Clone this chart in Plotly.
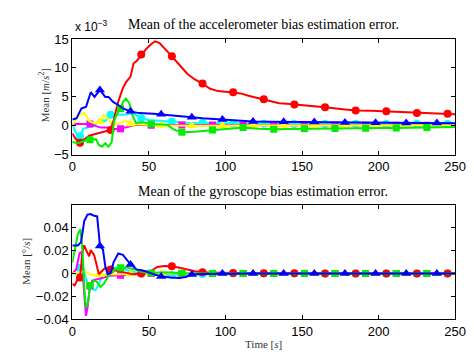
import numpy as np
import plotly.graph_objects as go

# ---------------- data: accelerometer bias error (x 1e-3 m/s^2) ----------------
acc_red_t = [0, 2, 5, 8, 11, 15, 20, 25, 27, 30, 33, 35, 38, 40, 42, 45, 48, 51, 54, 57, 60, 65, 70, 75, 80, 85, 90, 95,
             100, 105, 110, 115, 120, 125, 130, 135, 140, 145, 155, 165, 175, 185, 195, 205, 215, 225, 235, 245, 250]
acc_red_v = [-1.3, -2.2, -2.9, -2.3, -1.7, -1.4, -1.0, -0.7, 1.0, 4.2, 6.5, 7.5, 8.5, 10.8, 11.2, 12.3, 13.2, 14.0, 14.6,
             14.3, 13.5, 12.0, 10.5, 9.0, 8.0, 7.3, 6.4, 6.0, 5.9, 5.8, 5.6, 5.2, 4.9, 4.6, 4.2, 3.9, 3.8, 3.7, 3.4, 3.2,
             2.9, 2.65, 2.6, 2.5, 2.3, 2.2, 2.1, 2.1, 2.0]

acc_blue_t = [0, 2.7, 5.9, 9, 12, 14.5, 18, 21.5, 23.6, 26.8, 30, 33, 38, 43.6, 53, 58, 65, 72, 78, 85, 92, 98, 105, 112,
              118, 128, 138, 148, 158, 168, 178, 188, 198, 208, 218, 228, 238, 250]
acc_blue_v = [1.1, 1.3, 3.0, 3.3, 5.8, 5.0, 6.2, 5.0, 5.0, 4.1, 3.6, 3.0, 2.5, 2.2, 2.1, 2.0, 1.8, 1.6, 1.5, 1.3, 1.2, 1.1,
              0.9, 0.8, 0.75, 0.72, 0.7, 0.67, 0.65, 0.62, 0.6, 0.57, 0.55, 0.52, 0.5, 0.5, 0.48, 0.45]

acc_green_t = [0, 3.6, 9, 11.5, 15.5, 17.3, 19.4, 21.5, 23.6, 25.7, 27.2, 28.9, 31.5, 33, 35, 37.2, 39.4, 41.5, 45.7,
               51.5, 56, 62, 66, 71.5, 80, 91.5, 100, 111.5, 121.5, 131.5, 141.5, 151.5, 161.5, 171.5, 181.5, 191.5,
               201.5, 211.5, 221.5, 231.5, 250]
acc_green_v = [-2.8, -3.0, -2.5, -2.4, -2.3, -3.3, -3.6, -3.0, -3.6, -2.8, 0.8, 1.9, 3.0, 4.1, 4.7, 3.9, 1.7, 0.5, 0.6,
               0.3, 0.3, 0.2, -0.6, -1.1, -1.0, -0.7, -0.5, -0.3, -0.5, -0.6, -0.55, -0.5, -0.47, -0.45, -0.42, -0.4,
               -0.37, -0.35, -0.32, -0.3, -0.2]

acc_cyan_t = [0, 1, 2.7, 5, 7, 10, 14, 18, 21.5, 25, 29, 34, 39.4, 45, 50, 58, 65, 75, 85, 95, 105, 125, 145, 165, 185,
              205, 225, 245, 250]
acc_cyan_v = [0.3, -0.3, -1.4, -1.8, -0.5, -0.3, 0.0, 1.1, 0.8, 1.9, 1.9, 1.9, 2.2, 1.3, 1.0, 0.8, 0.7, 0.55, 0.5, 0.45,
              0.4, 0.35, 0.33, 0.32, 0.3, 0.3, 0.3, 0.3, 0.3]

acc_magenta_t = [0, 7, 11.5, 15, 18.5, 22.5, 26.8, 31.5, 35, 41.5, 51.5, 71.5, 91.5, 111.5, 131.5, 151.5, 171.5, 191.5,
                 211.5, 231.5, 250]
acc_magenta_v = [0.3, 0.3, 0.3, 0.0, -0.3, -0.3, -0.55, -0.5, -0.3, 0.2, 0.1, 0.15, 0.15, 0.1, 0.1, 0.1, 0.1, 0.1, 0.1,
                 0.1, 0.1]

acc_yellow_t = [0, 2, 5, 8, 11, 14, 18, 20.5, 22.5, 27, 32, 35, 38, 44, 50, 58, 70, 78, 90, 98, 110, 118, 138, 158, 178,
                198, 218, 238, 250]
acc_yellow_v = [0, 1.1, 1.9, 2.2, 0.8, 0.5, 0.7, 1.9, 1.4, 0.1, 0.6, 0.9, 0.3, 0.3, 0.2, 0.05, 0.0, 0.0, 0.0, 0.0, 0.05,
                0.05, 0.1, 0.1, 0.1, 0.1, 0.1, 0.1, 0.1]

# ---------------- data: gyroscope bias error (deg/s) ----------------
gyr_red_t = [0, 1.5, 3.6, 5, 6.8, 7.8, 9.5, 11, 12, 14.2, 15.8, 17.3, 19.4, 21.5, 25, 29, 34, 39.4, 45, 51, 55.5, 60,
             65, 70, 74.4, 80, 85, 95, 105, 125, 145, 165, 185, 205, 225, 245, 250]
gyr_red_v = [-0.009, -0.0105, -0.0048, -0.0034, 0.0205, 0.0247, 0.019, 0.015, 0.0205, 0.0163, 0.0078, -0.0006, 0.0022,
             0.005, 0.0036, 0.0022, 0.001, -0.0006, 0.0, 0.002, 0.0058, 0.0065, 0.0064, 0.005, 0.0036, 0.002, 0.0012,
             0.0008, 0.0005, 0.0003, 0.0002, 0.0001, 0.0001, 0.0, 0.0, 0.0, 0.0]

gyr_blue_t = [0, 3.6, 5.7, 7.8, 9.9, 12, 14.2, 16.2, 17.3, 18, 20, 21.5, 23, 25, 27, 30, 33, 36, 38, 42, 48, 53, 58, 64,
              70, 74, 78, 85, 98, 118, 138, 158, 178, 198, 218, 238, 250]
gyr_blue_v = [0.0245, 0.0245, 0.0275, 0.046, 0.0515, 0.052, 0.0505, 0.05, 0.035, 0.024, 0.021, 0.0065, -0.0006, 0.0005,
              0.01, 0.0175, 0.0163, 0.011, 0.008, 0.0036, 0.002, -0.0006, -0.0025, -0.0035, -0.004, -0.003, -0.0008,
              -0.0003, 0, 0, 0, 0, 0, 0, 0, 0, 0]

gyr_green_t = [0, 1.5, 3.6, 5.3, 6.8, 7.8, 8.9, 10.4, 11.5, 14.2, 16.2, 18.3, 20.5, 23.6, 27.8, 31.5, 36.3, 40.5, 45,
               51.5, 60, 71.5, 91.5, 111.5, 131.5, 151.5, 171.5, 191.5, 211.5, 231.5, 250]
gyr_green_v = [0.0093, 0.0205, 0.0346, 0.0388, 0.0177, -0.0132, -0.030, -0.0245, -0.0105, -0.0062, -0.0076, -0.0118,
               -0.009, -0.002, 0.0036, 0.005, 0.005, 0.0036, 0.0015, 0.0005, 0.0012, 0.0003, 0, 0, 0, 0, 0, 0, 0, 0, 0]

gyr_magenta_t = [0, 2.5, 4.7, 6.1, 7.2, 8.2, 8.9, 9.9, 11.5, 13.1, 16.2, 20.5, 24.7, 31.5, 40, 51.5, 71.5, 91.5, 111.5,
                 131.5, 151.5, 171.5, 191.5, 211.5, 231.5, 250]
gyr_magenta_v = [0, 0.0036, 0.0177, 0.019, -0.0076, -0.0315, -0.037, -0.030, -0.011, -0.0062, -0.0048, -0.0034, -0.002,
                 -0.0014, -0.0005, 0, 0, 0, 0, 0, 0, 0, 0, 0, 0, 0]

gyr_cyan_t = [0, 3.6, 5, 7, 8.9, 11, 13.1, 15.2, 17.3, 19.4, 22.6, 25, 26.8, 32, 37.3, 45, 55, 65, 75, 85, 105, 125,
              145, 165, 185, 205, 225, 245, 250]
gyr_cyan_v = [0, 0.0003, 0.005, 0.0064, -0.0048, -0.0105, -0.0132, -0.0147, -0.009, -0.0034, 0.0003, 0.003, 0.005,
              0.005, 0.002, 0.0, -0.001, -0.0012, -0.001, -0.0005, 0, 0, 0, 0, 0, 0, 0, 0, 0]

gyr_yellow_t = [0, 5, 8, 12, 18, 25, 38, 58, 78, 98, 118, 138, 158, 178, 198, 218, 238, 250]
gyr_yellow_v = [0, 0.001, 0.002, -0.001, -0.001, -0.0008, -0.0005, 0, 0, 0, 0, 0, 0, 0, 0, 0, 0, 0]

# marker schedules (every 20 s)
circle_times = list(range(5, 250, 20))
triangle_times = list(range(18, 250, 20))
square_times = [11.5 + 20 * k for k in range(12)]

x_ticks = [0, 50, 100, 150, 200, 250]
acc_y_ticks = [-5, 0, 5, 10, 15]
gyr_y_ticks = [-0.04, -0.02, 0, 0.02, 0.04]
gyr_y_ticktext = ["\u22120.04", "\u22120.02", "0", "0.02", "0.04"]

fig = go.Figure()

series = [
    # (top t, top v, bottom t, bottom v, colour, symbol, marker times, size)
    (acc_cyan_t, acc_cyan_v, gyr_cyan_t, gyr_cyan_v, "#00ffff", "circle", circle_times, 8),
    (acc_magenta_t, acc_magenta_v, gyr_magenta_t, gyr_magenta_v, "#ff00ff", "square", square_times, 7),
    (acc_yellow_t, acc_yellow_v, gyr_yellow_t, gyr_yellow_v, "#ffff00", "triangle-up", triangle_times, 9),
    (acc_red_t, acc_red_v, gyr_red_t, gyr_red_v, "#ff0000", "circle", circle_times, 8),
    (acc_green_t, acc_green_v, gyr_green_t, gyr_green_v, "#00ee00", "square", square_times, 7),
    (acc_blue_t, acc_blue_v, gyr_blue_t, gyr_blue_v, "#0000ff", "triangle-up", triangle_times, 9),
]

for (ta, va, tg, vg, col, sym, mtimes, msz) in series:
    for t, v, xa, ya in ((ta, va, "x", "y"), (tg, vg, "x2", "y2")):
        t = np.array(t, dtype=float)
        v = np.array(v, dtype=float)
        fig.add_trace(go.Scatter(x=t, y=v, mode="lines", line=dict(color=col, width=2),
                                 xaxis=xa, yaxis=ya, showlegend=False, hoverinfo="skip"))
        sel = np.isin(t, np.array(mtimes, dtype=float))
        fig.add_trace(go.Scatter(x=t[sel], y=v[sel], mode="markers",
                                 marker=dict(color=col, symbol=sym, size=msz, line=dict(width=0)),
                                 xaxis=xa, yaxis=ya, showlegend=False, hoverinfo="skip"))

W, H = 474, 355
xl, xr = 62.3 / W, 457.7 / W
tick_font = dict(family="Liberation Sans, Arial, sans-serif", size=13, color="black")
axis_common = dict(showline=True, linecolor="black", linewidth=1, mirror="ticks", ticks="inside",
                   ticklen=4, tickwidth=1, tickcolor="black", showgrid=False, zeroline=False,
                   tickfont=tick_font)

fig.update_layout(
    width=W, height=H, margin=dict(l=0, r=0, t=0, b=0),
    paper_bgcolor="white", plot_bgcolor="white", showlegend=False,
    xaxis=dict(domain=[xl, xr], range=[0, 250], tickvals=x_ticks, anchor="y", **axis_common),
    yaxis=dict(domain=[1 - 146 / H, 1 - 25 / H], range=[-5, 15], tickvals=acc_y_ticks, anchor="x", **axis_common),
    xaxis2=dict(domain=[xl, xr], range=[0, 250], tickvals=x_ticks, anchor="y2", **axis_common),
    yaxis2=dict(domain=[1 - 317.7 / H, 1 - 198.3 / H], range=[-0.04, 0.06], tickvals=gyr_y_ticks,
                ticktext=gyr_y_ticktext, anchor="x2", **axis_common),
)

serif = "Liberation Serif, Times New Roman, serif"
ann = [
    dict(text="Mean of the accelerometer bias estimation error.", x=260 / W, y=1 - 10 / H,
         font=dict(family=serif, size=14, color="black")),
    dict(text="Mean of the gyroscope bias estimation error.", x=259 / W, y=1 - 184 / H,
         font=dict(family=serif, size=14, color="black")),
    dict(text="x 10<sup>\u22123</sup>", x=63 / W, y=1 - 11 / H, xanchor="left",
         font=dict(family="Liberation Sans, Arial, sans-serif", size=12, color="black")),
    dict(text="Mean [<i>m</i>/<i>s</i><sup>2</sup>]", x=34 / W, y=1 - 84 / H, textangle=-90,
         font=dict(family=serif, size=11, color="#333333")),
    dict(text="Mean [\u00b0/<i>s</i>]", x=15 / W, y=1 - 257 / H, textangle=-90,
         font=dict(family=serif, size=11, color="#333333")),
    dict(text="Time [<i>s</i>]", x=260 / W, y=1 - 344 / H,
         font=dict(family=serif, size=11, color="#333333")),
]
for a in ann:
    a.setdefault("xanchor", "center")
    fig.add_annotation(xref="paper", yref="paper", yanchor="middle", showarrow=False, **a)

fig.write_html("out.html")
